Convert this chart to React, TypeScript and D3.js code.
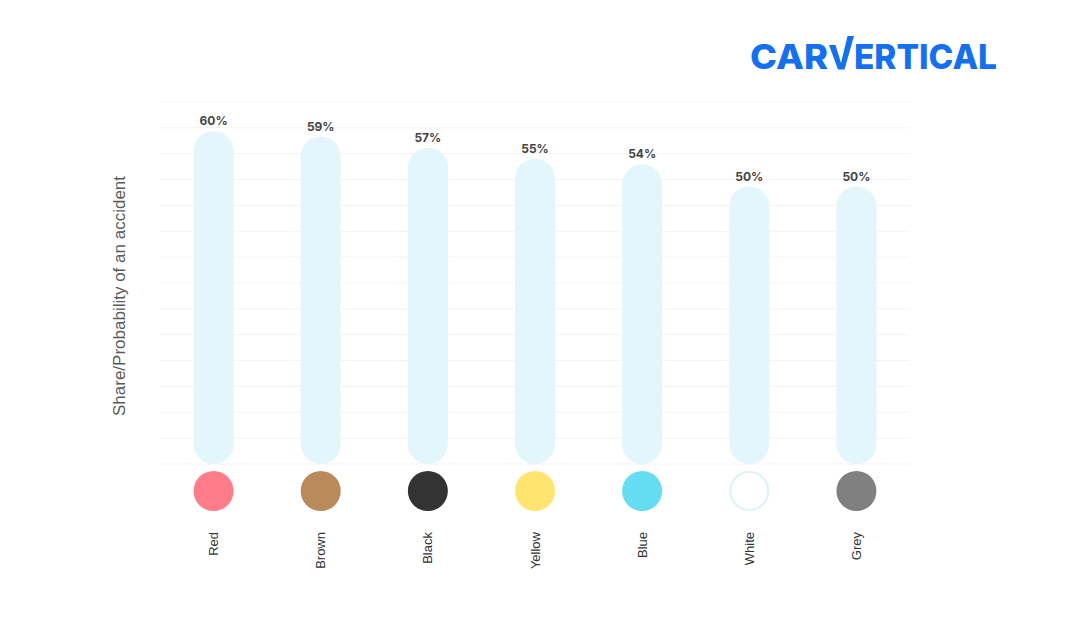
import React from 'react';
import * as d3 from 'd3';

const colours = ['Red', 'Brown', 'Black', 'Yellow', 'Blue', 'White', 'Grey'];
const shares = [60, 59, 57, 55, 54, 50, 50];
const swatches = ['#ff7c88', '#b98a5a', '#333333', '#ffe470', '#66dcf3', '#ffffff', '#808080'];

const width = 1080;
const height = 644;
const gridLeft = 160;
const gridRight = 910;
const baseY = 464;
const topY = 102;
const barW = 40;
const brand = '#1570ef';

export default function App() {
  const x = d3.scaleBand<string>().domain(colours).range([gridLeft, gridRight]);
  const y = d3.scaleLinear().domain([0, 60]).range([baseY, 131]);
  const gridLines = d3.range(0, 15).map(i => baseY - (i * (baseY - topY)) / 14);

  return (
    <svg width={width} height={height} style={{ position: 'absolute', left: 0, top: 0, background: '#fff' }}
      fontFamily="'Liberation Sans', Arial, sans-serif">
      {/* faint gridlines */}
      {gridLines.map((gy, i) => (
        <line key={i} x1={gridLeft} x2={gridRight} y1={gy} y2={gy} stroke="#f3f3f3" strokeWidth={1} />
      ))}

      {colours.map((c, i) => {
        const cx = x(c)! + x.bandwidth() / 2;
        const top = y(shares[i]);
        return (
          <g key={c}>
            <rect x={cx - barW / 2} y={top} width={barW} height={baseY - top} rx={barW / 2} fill="#e3f6fc" />
            <text x={cx} y={top - 6} textAnchor="middle" fontSize={12} fontWeight="bold" fill="#444"
              fontFamily="Inter, sans-serif">{shares[i]}%</text>
            <circle cx={cx} cy={491} r={c === 'White' ? 19 : 20} fill={swatches[i]}
              stroke={c === 'White' ? '#d8f3fa' : 'none'} strokeWidth={2} />
            <text transform={`translate(${cx + 4.5},532) rotate(-90)`} textAnchor="end" fontSize={13} fill="#333">{c}</text>
          </g>
        );
      })}

      <text transform="translate(125,296) rotate(-90)" textAnchor="middle" fontSize={17} fill="#5a5a5a">
        Share/Probability of an accident
      </text>

      {/* logo */}
      <g fill={brand} fontFamily="Inter, sans-serif" fontWeight={800} fontSize={34}>
        <text x={750} y={69} textLength={78} lengthAdjust="spacingAndGlyphs">CAR</text>
        <path d="M829,45 L835.5,45 L841,63 L847.5,36 L854,36 L844.5,69.5 L838,69.5 Z" />
        <text x={854} y={69} textLength={143} lengthAdjust="spacingAndGlyphs">ERTICAL</text>
      </g>
    </svg>
  );
}
